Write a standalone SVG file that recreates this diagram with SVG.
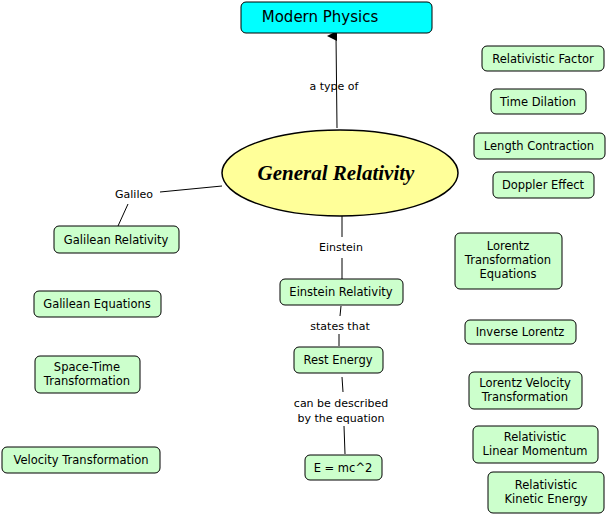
<svg xmlns="http://www.w3.org/2000/svg" width="607" height="516" viewBox="0 0 607 516">
<style>
text{font-family:"DejaVu Sans",Verdana,sans-serif;font-size:11.5px;fill:#000;text-anchor:middle}
.n{fill:#CCFFCC;stroke:#000;stroke-width:1}
.l{stroke:#000;stroke-width:1;fill:none}
.lb{font-size:11px}
</style>
<defs><marker id="a" markerWidth="10" markerHeight="10" refX="5" refY="9" orient="auto" markerUnits="userSpaceOnUse"><path d="M0,10 L5,0 L10,10Z" fill="#000"/></marker></defs>
<rect width="607" height="516" fill="#fff"/>
<g id="connectors">
<line class="l" x1="337" y1="128" x2="336" y2="36" marker-end="url(#a)"/>
<line class="l" x1="222" y1="186" x2="160" y2="192"/>
<line class="l" x1="128" y1="204" x2="118" y2="226"/>
<line class="l" x1="342" y1="216" x2="342" y2="237"/>
<line class="l" x1="342" y1="258" x2="342" y2="279"/>
<line class="l" x1="341" y1="306" x2="340" y2="316"/>
<line class="l" x1="339" y1="334" x2="339" y2="346"/>
<line class="l" x1="342" y1="377" x2="343" y2="392"/>
<line class="l" x1="344" y1="426" x2="345" y2="454"/>
<text class="lb" x="334" y="90">a type of</text>
<text class="lb" x="134" y="198">Galileo</text>
<text class="lb" x="341" y="251">Einstein</text>
<text class="lb" x="340" y="330">states that</text>
<text class="lb" x="341" y="407">can be described</text>
<text class="lb" x="341" y="422">by the equation</text>
</g>
<g id="modern"><rect x="241" y="2" width="191" height="31" rx="5" fill="#00FFFF" stroke="#000"/><text x="320" y="22" style="font-size:15px">Modern Physics</text></g>
<g id="general"><ellipse cx="340" cy="173" rx="118" ry="43" fill="#FFFF99" stroke="#000" stroke-width="1.5"/><text x="336" y="180" style="font-family:'Liberation Serif',serif;font-size:21px;font-weight:bold;font-style:italic">General Relativity</text></g>
<g id="galrel"><rect class="n" x="54" y="226" width="125" height="27" rx="5"/><text x="116" y="244">Galilean Relativity</text></g>
<g id="einrel"><rect class="n" x="280" y="279" width="123" height="26" rx="5"/><text x="341" y="296">Einstein Relativity</text></g>
<g id="rest"><rect class="n" x="294" y="347" width="89" height="26" rx="5"/><text x="338" y="364">Rest Energy</text></g>
<g id="emc"><rect class="n" x="305" y="455" width="77" height="25" rx="5"/><text x="343" y="472">E = mc^2</text></g>
<g id="rf"><rect class="n" x="482" y="46" width="122" height="25" rx="5"/><text x="543" y="63">Relativistic Factor</text></g>
<g id="td"><rect class="n" x="491" y="89" width="95" height="25" rx="5"/><text x="538" y="106">Time Dilation</text></g>
<g id="lc"><rect class="n" x="474" y="133" width="131" height="26" rx="5"/><text x="539" y="150">Length Contraction</text></g>
<g id="de"><rect class="n" x="493" y="172" width="101" height="26" rx="5"/><text x="543" y="189">Doppler Effect</text></g>
<g id="lte"><rect class="n" x="455" y="233" width="107" height="56" rx="5"/><text x="508" y="250">Lorentz</text><text x="508" y="264">Transformation</text><text x="508" y="278">Equations</text></g>
<g id="il"><rect class="n" x="465" y="320" width="111" height="24" rx="5"/><text x="520" y="336">Inverse Lorentz</text></g>
<g id="lvt"><rect class="n" x="469" y="372" width="113" height="37" rx="5"/><text x="525" y="387">Lorentz Velocity</text><text x="525" y="401">Transformation</text></g>
<g id="rlm"><rect class="n" x="473" y="426" width="125" height="37" rx="5"/><text x="535" y="441">Relativistic</text><text x="535" y="455">Linear Momentum</text></g>
<g id="rke"><rect class="n" x="488" y="472" width="116" height="41" rx="5"/><text x="546" y="489">Relativistic</text><text x="546" y="503">Kinetic Energy</text></g>
<g id="ge"><rect class="n" x="34" y="291" width="127" height="26" rx="5"/><text x="97" y="308">Galilean Equations</text></g>
<g id="st"><rect class="n" x="35" y="356" width="105" height="37" rx="5"/><text x="87" y="371">Space-Time</text><text x="87" y="385">Transformation</text></g>
<g id="vt"><rect class="n" x="2" y="447" width="158" height="26" rx="5"/><text x="81" y="464">Velocity Transformation</text></g>
</svg>
